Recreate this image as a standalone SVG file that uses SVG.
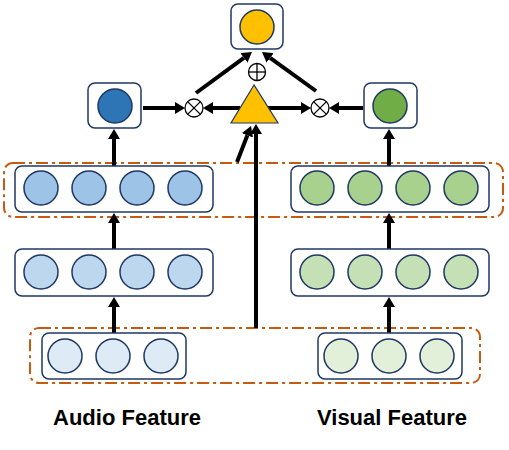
<svg xmlns="http://www.w3.org/2000/svg" width="509" height="450" viewBox="0 0 509 450">
<style>
.box{fill:#fff;stroke:#1F3864;stroke-width:1.5}
.c{stroke:#1F3864;stroke-width:1.5}
.dash{fill:none;stroke:#C55A11;stroke-width:2;stroke-dasharray:12 4 3 4}
.arr{stroke:#000;stroke-width:4;fill:none;marker-end:url(#ah)}
.op{fill:#fff;stroke:#000;stroke-width:1.3}
.opl{stroke:#000;stroke-width:1.3}
.lbl{font-family:"Liberation Sans",Arial,sans-serif;font-weight:bold;font-size:22px;fill:#000;text-anchor:middle}
</style>
<defs>
<marker id="ah" viewBox="0 0 10 12" refX="0" refY="6" markerWidth="10" markerHeight="12" markerUnits="userSpaceOnUse" orient="auto">
<path d="M0,0 L10,6 L0,12 z" fill="#000"/>
</marker>
</defs>

<g id="dashed-boxes">
<rect class="dash" x="4" y="163" width="499" height="54" rx="9"/>
<rect class="dash" x="30" y="328" width="450" height="55" rx="9"/>
</g>

<g id="connectors">
<line class="arr" x1="143" y1="108" x2="175" y2="108"/>
<line class="arr" x1="240" y1="108" x2="213" y2="108"/>
<line class="arr" x1="268" y1="108" x2="301" y2="108"/>
<line class="arr" x1="363" y1="108" x2="339" y2="108"/>
<line class="arr" x1="196" y1="93" x2="243.9" y2="57.9"/>
<line class="arr" x1="316" y1="91" x2="270.1" y2="57.9"/>
<line class="arr" x1="256" y1="328" x2="256" y2="134"/>
<line class="arr" x1="237" y1="162" x2="247.4" y2="135.3"/>
<line class="arr" x1="114" y1="166" x2="114" y2="139"/>
<line class="arr" x1="389" y1="166" x2="389" y2="139"/>
<line class="arr" x1="114" y1="249" x2="114" y2="223"/>
<line class="arr" x1="389" y1="249" x2="389" y2="223"/>
<line class="arr" x1="114" y1="333" x2="114" y2="307"/>
<line class="arr" x1="389" y1="333" x2="389" y2="307"/>
</g>

<g id="output">
<rect class="box" x="231" y="4" width="52" height="45" rx="7"/>
<circle class="c" cx="257" cy="27" r="17" fill="#FFC000"/>
</g>

<g id="audio-attn">
<rect class="box" x="88" y="83" width="53" height="45" rx="7"/>
<circle class="c" cx="115" cy="106" r="17" fill="#2E75B6"/>
</g>

<g id="visual-attn">
<rect class="box" x="364" y="83" width="53" height="45" rx="7"/>
<circle class="c" cx="390" cy="106" r="17" fill="#70AD47"/>
</g>

<g id="gate">
<polygon points="254,85 231,123 278,123" fill="#FFC000" stroke="#1F3864" stroke-width="1.2"/>
</g>

<g id="sum">
<circle class="op" cx="257" cy="72" r="8.5"/>
<line class="opl" x1="248.5" y1="72" x2="265.5" y2="72"/>
<line class="opl" x1="257" y1="63.5" x2="257" y2="80.5"/>
</g>

<g id="mul-left">
<circle class="op" cx="194" cy="108" r="9"/>
<line class="opl" x1="187.6" y1="101.6" x2="200.4" y2="114.4"/>
<line class="opl" x1="187.6" y1="114.4" x2="200.4" y2="101.6"/>
</g>

<g id="mul-right">
<circle class="op" cx="320" cy="108" r="9"/>
<line class="opl" x1="313.6" y1="101.6" x2="326.4" y2="114.4"/>
<line class="opl" x1="313.6" y1="114.4" x2="326.4" y2="101.6"/>
</g>

<g id="audio-l2">
<rect class="box" x="15" y="166" width="198" height="46" rx="7"/>
<g fill="#9DC3E6" class="c">
<circle cx="41" cy="188" r="17"/><circle cx="89" cy="188" r="17"/><circle cx="137" cy="188" r="17"/><circle cx="185" cy="188" r="17"/>
</g>
</g>

<g id="visual-l2">
<rect class="box" x="291" y="166" width="198" height="46" rx="7"/>
<g fill="#A9D18E" class="c">
<circle cx="317" cy="188" r="17"/><circle cx="365" cy="188" r="17"/><circle cx="413" cy="188" r="17"/><circle cx="461" cy="188" r="17"/>
</g>
</g>

<g id="audio-l1">
<rect class="box" x="15" y="249" width="198" height="47" rx="7"/>
<g fill="#BDD7EE" class="c">
<circle cx="41" cy="272" r="17"/><circle cx="89" cy="272" r="17"/><circle cx="137" cy="272" r="17"/><circle cx="185" cy="272" r="17"/>
</g>
</g>

<g id="visual-l1">
<rect class="box" x="291" y="249" width="198" height="47" rx="7"/>
<g fill="#C5E0B4" class="c">
<circle cx="317" cy="272" r="17"/><circle cx="365" cy="272" r="17"/><circle cx="413" cy="272" r="17"/><circle cx="461" cy="272" r="17"/>
</g>
</g>

<g id="audio-in">
<rect class="box" x="42" y="333" width="144" height="46" rx="7"/>
<g fill="#DEEBF7" class="c">
<circle cx="65" cy="356" r="17"/><circle cx="113" cy="356" r="17"/><circle cx="161" cy="356" r="17"/>
</g>
</g>

<g id="visual-in">
<rect class="box" x="318" y="333" width="144" height="46" rx="7"/>
<g fill="#E2F0D9" class="c">
<circle cx="341" cy="356" r="17"/><circle cx="389" cy="356" r="17"/><circle cx="437" cy="356" r="17"/>
</g>
</g>

<g id="labels">
<text class="lbl" x="127" y="425">Audio Feature</text>
<text class="lbl" x="392" y="425">Visual Feature</text>
</g>
</svg>
